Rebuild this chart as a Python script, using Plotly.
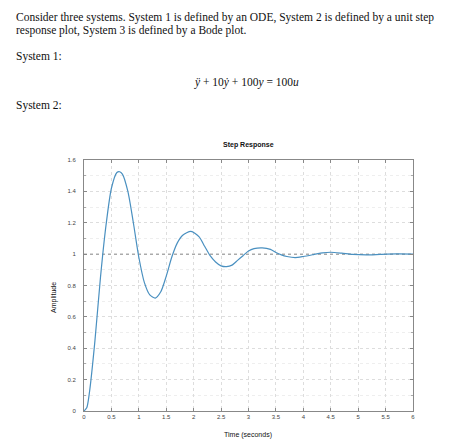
import plotly.graph_objects as go

t = [0,0.05,0.1,0.2,0.3,0.4,0.5,0.6,0.65,0.7,0.8,0.9,1.0,1.1,1.2,1.3,1.4,1.5,1.6,1.7,1.8,1.95,2.1,2.2,2.3,2.4,2.5,2.6,2.7,2.8,2.9,3.0,3.1,3.25,3.4,3.5,3.6,3.7,3.85,4.0,4.2,4.35,4.5,4.7,4.9,5.15,5.4,5.7,6.0]
amp = [0,0.02,0.12,0.45,0.85,1.18,1.42,1.52,1.525,1.51,1.40,1.20,0.98,0.82,0.74,0.72,0.76,0.86,0.98,1.07,1.12,1.145,1.11,1.05,0.99,0.95,0.925,0.92,0.93,0.96,0.99,1.02,1.035,1.04,1.03,1.01,0.995,0.985,0.978,0.985,0.998,1.008,1.012,1.006,0.998,0.995,0.998,1.001,1.0]
xticks = [0,0.5,1,1.5,2,2.5,3,3.5,4,4.5,5,5.5,6]
xlabels = ["0","0.5","1","1.5","2","2.5","3","3.5","4","4.5","5","5.5","6"]
yticks = [0,0.2,0.4,0.6,0.8,1,1.2,1.4,1.6]
ylabels = ["0","0.2","0.4","0.6","0.8","1","1.2","1.4","1.6"]

W, H = 474, 440
fig = go.Figure()
fig.add_trace(go.Scatter(x=[0, 6], y=[1, 1], mode="lines", line=dict(color="#777", width=0.8, dash="dot")))
fig.add_trace(go.Scatter(x=t, y=amp, mode="lines", line=dict(color="#4a90c0", width=1.2, shape="spline", smoothing=0.7)))

ax = dict(showline=True, linecolor="#888", linewidth=1, mirror="ticks", ticks="inside", ticklen=3,
          tickcolor="#888", showgrid=True, gridcolor="#ddd", griddash="dot", gridwidth=1, automargin=False,
          tickfont=dict(size=6, color="#444", family="Liberation Sans"), zeroline=False,
          minor=dict(showgrid=True, gridcolor="#eee", griddash="dot", ticks="inside", ticklen=2, tickcolor="#aaa"))
fig.update_xaxes(**ax, range=[0, 6], tickvals=xticks, ticktext=xlabels, domain=[76/W, 405/W])
fig.update_yaxes(**ax, range=[0, 1.6], tickvals=yticks, ticktext=ylabels, domain=[1-403/H, 1-152/H], ticklabelstandoff=6)

serif = "Liberation Serif"
def txt(x, y, s, size=11.5, **kw):
    fig.add_annotation(x=x/W, y=1-y/H, xref="paper", yref="paper", text=s, showarrow=False,
                       font=dict(family=kw.pop("family", serif), size=size, color=kw.pop("color", "#111")),
                       xanchor=kw.pop("xanchor", "left"), yanchor="middle", **kw)
txt(6, 10, "Consider three systems. System 1 is defined by an ODE, System 2 is defined by a unit step")
txt(6, 23, "response plot, System 3 is defined by a Bode plot.")
txt(6, 49, "System 1:")
txt(238, 74, "<i>ÿ</i> + 10<i>ẏ</i> + 100<i>y</i> = 100<i>u</i>", xanchor="center")
txt(6, 97, "System 2:")
txt(240, 137, "<b>Step Response</b>", size=7, family="Liberation Sans", xanchor="center")
txt(240, 427, "Time (seconds)", size=7, family="Liberation Sans", xanchor="center")
txt(46, 290, "Amplitude", size=7, family="Liberation Sans", xanchor="center", textangle=-90)

fig.update_layout(width=W, height=H, margin=dict(l=0, r=0, t=0, b=0), showlegend=False,
                  plot_bgcolor="white", paper_bgcolor="white")
fig.write_html("out.html")
